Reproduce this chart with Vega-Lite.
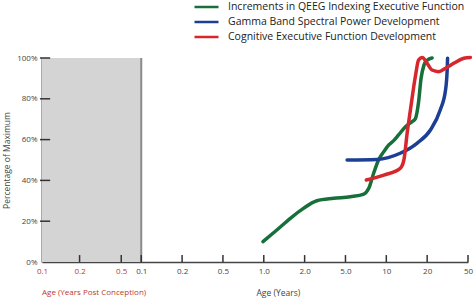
{
  "$schema": "https://vega.github.io/schema/vega-lite/v6.json",
  "width": 426,
  "height": 204,
  "autosize": "none",
  "padding": {"left": 42, "top": 58, "right": 6, "bottom": 37},
  "background": "white",
  "config": {
    "font": "Open Sans",
    "view": {"stroke": null},
    "axisX": {
      "labelOverlap": false,
      "labelFlush": false,
      "labelFontSize": 8,
      "labelPadding": 5,
      "ticks": false,
      "domainColor": "#444444",
      "domainWidth": 1.5,
      "grid": false,
      "zindex": 1
    },
    "axisY": {
      "labelOverlap": false,
      "labelFontSize": 8,
      "labelColor": "#444444",
      "labelPadding": 5,
      "ticks": false,
      "domainColor": "#555555",
      "domainWidth": 2,
      "grid": false,
      "zindex": 1
    }
  },
  "datasets": {
    "curves": [
      {"series": "Increments in QEEG Indexing Executive Function", "pos": 5.41, "pct": 9.95},
      {"series": "Increments in QEEG Indexing Executive Function", "pos": 5.75, "pct": 15.7},
      {"series": "Increments in QEEG Indexing Executive Function", "pos": 6.08, "pct": 21.4},
      {"series": "Increments in QEEG Indexing Executive Function", "pos": 6.4, "pct": 26.3},
      {"series": "Increments in QEEG Indexing Executive Function", "pos": 6.73, "pct": 30.0},
      {"series": "Increments in QEEG Indexing Executive Function", "pos": 7.14, "pct": 31.2},
      {"series": "Increments in QEEG Indexing Executive Function", "pos": 7.55, "pct": 32.0},
      {"series": "Increments in QEEG Indexing Executive Function", "pos": 7.88, "pct": 33.3},
      {"series": "Increments in QEEG Indexing Executive Function", "pos": 8.0, "pct": 36.1},
      {"series": "Increments in QEEG Indexing Executive Function", "pos": 8.12, "pct": 43.5},
      {"series": "Increments in QEEG Indexing Executive Function", "pos": 8.24, "pct": 50.0},
      {"series": "Increments in QEEG Indexing Executive Function", "pos": 8.37, "pct": 54.1},
      {"series": "Increments in QEEG Indexing Executive Function", "pos": 8.49, "pct": 57.4},
      {"series": "Increments in QEEG Indexing Executive Function", "pos": 8.61, "pct": 59.5},
      {"series": "Increments in QEEG Indexing Executive Function", "pos": 8.73, "pct": 62.3},
      {"series": "Increments in QEEG Indexing Executive Function", "pos": 8.9, "pct": 66.3},
      {"series": "Increments in QEEG Indexing Executive Function", "pos": 9.06, "pct": 68.8},
      {"series": "Increments in QEEG Indexing Executive Function", "pos": 9.14, "pct": 70.2},
      {"series": "Increments in QEEG Indexing Executive Function", "pos": 9.22, "pct": 78.4},
      {"series": "Increments in QEEG Indexing Executive Function", "pos": 9.28, "pct": 89.9},
      {"series": "Increments in QEEG Indexing Executive Function", "pos": 9.35, "pct": 96.4},
      {"series": "Increments in QEEG Indexing Executive Function", "pos": 9.43, "pct": 98.9},
      {"series": "Increments in QEEG Indexing Executive Function", "pos": 9.55, "pct": 100.0},
      {"series": "Gamma Band Spectral Power Development", "pos": 7.47, "pct": 50.0},
      {"series": "Gamma Band Spectral Power Development", "pos": 8.2, "pct": 50.3},
      {"series": "Gamma Band Spectral Power Development", "pos": 8.77, "pct": 53.3},
      {"series": "Gamma Band Spectral Power Development", "pos": 9.18, "pct": 58.2},
      {"series": "Gamma Band Spectral Power Development", "pos": 9.51, "pct": 64.7},
      {"series": "Gamma Band Spectral Power Development", "pos": 9.75, "pct": 74.5},
      {"series": "Gamma Band Spectral Power Development", "pos": 9.88, "pct": 84.3},
      {"series": "Gamma Band Spectral Power Development", "pos": 9.92, "pct": 94.1},
      {"series": "Gamma Band Spectral Power Development", "pos": 9.93, "pct": 99.9},
      {"series": "Cognitive Executive Function Development", "pos": 7.94, "pct": 40.2},
      {"series": "Cognitive Executive Function Development", "pos": 8.37, "pct": 42.6},
      {"series": "Cognitive Executive Function Development", "pos": 8.77, "pct": 45.9},
      {"series": "Cognitive Executive Function Development", "pos": 8.86, "pct": 50.0},
      {"series": "Cognitive Executive Function Development", "pos": 8.94, "pct": 63.1},
      {"series": "Cognitive Executive Function Development", "pos": 9.02, "pct": 74.5},
      {"series": "Cognitive Executive Function Development", "pos": 9.14, "pct": 90.8},
      {"series": "Cognitive Executive Function Development", "pos": 9.22, "pct": 99.0},
      {"series": "Cognitive Executive Function Development", "pos": 9.31, "pct": 100.3},
      {"series": "Cognitive Executive Function Development", "pos": 9.43, "pct": 97.4},
      {"series": "Cognitive Executive Function Development", "pos": 9.55, "pct": 94.1},
      {"series": "Cognitive Executive Function Development", "pos": 9.71, "pct": 93.3},
      {"series": "Cognitive Executive Function Development", "pos": 9.88, "pct": 95.0},
      {"series": "Cognitive Executive Function Development", "pos": 10.08, "pct": 97.4},
      {"series": "Cognitive Executive Function Development", "pos": 10.33, "pct": 99.9},
      {"series": "Cognitive Executive Function Development", "pos": 10.49, "pct": 100.3}
    ]
  },
  "encoding": {
    "x": {"type": "quantitative", "scale": {"domain": [0, 10.43], "nice": false, "zero": false},
      "axis": {
        "values": [0, 0.92, 1.94, 2.43, 3.43, 4.43, 5.43, 6.43, 7.43, 8.43, 9.43, 10.43],
        "labelExpr": "datum.value < 0.5 ? '0.1' : datum.value < 1.5 ? '0.2' : datum.value < 2.2 ? '0.5' : datum.value < 3 ? '0.1' : datum.value < 4 ? '0.2' : datum.value < 5 ? '0.5' : datum.value < 6 ? '1.0' : datum.value < 7 ? '2.0' : datum.value < 8 ? '5.0' : datum.value < 9 ? '10' : datum.value < 10 ? '20' : '50'",
        "labelColor": {"condition": {"test": "datum.value < 2.2", "value": "#b83a30"}, "value": "#444444"},
        "title": "Age (Years)",
        "titleFontSize": 8.5,
        "titleFontWeight": "normal",
        "titleColor": "#444444",
        "titleX": 214,
        "titleY": 30.7,
        "titleAlign": "left",
        "titleBaseline": "middle"
      }
    },
    "y": {"type": "quantitative", "scale": {"domain": [0, 100], "nice": false},
      "axis": {
        "values": [0, 20, 40, 60, 80, 100],
        "labelExpr": "datum.value + '%'",
        "title": "Percentage of Maximum",
        "titleFontSize": 8.5,
        "titleFontWeight": "normal",
        "titleColor": "#444444",
        "titleX": -36,
        "titleY": 102,
        "titleBaseline": "middle"
      }
    }
  },
  "layer": [
    {
      "data": {"values": [{"start": 0, "end": 2.43, "low": 0, "high": 100}]},
      "mark": {"type": "rect", "fill": "#d4d4d4"},
      "encoding": {
        "x": {"field": "start", "type": "quantitative"},
        "x2": {"field": "end"},
        "y": {"field": "low", "type": "quantitative"},
        "y2": {"field": "high"}
      }
    },
    {
      "data": {"values": [{"start": 2.43, "low": 0, "high": 100}]},
      "mark": {"type": "rule", "color": "#8a8a8a", "strokeWidth": 2},
      "encoding": {
        "x": {"field": "start", "type": "quantitative"},
        "y": {"field": "low", "type": "quantitative"},
        "y2": {"field": "high"}
      }
    },
    {
      "data": {"values": [
        {"tick": 0.92, "low": 0, "high": 3.4}, {"tick": 1.94, "low": 0, "high": 3.4},
        {"tick": 2.43, "low": 0, "high": 3.4}, {"tick": 3.43, "low": 0, "high": 3.4},
        {"tick": 4.43, "low": 0, "high": 3.4}, {"tick": 5.43, "low": 0, "high": 3.4},
        {"tick": 6.43, "low": 0, "high": 3.4}, {"tick": 7.43, "low": 0, "high": 3.4},
        {"tick": 8.43, "low": 0, "high": 3.4}, {"tick": 9.43, "low": 0, "high": 3.4},
        {"tick": 10.43, "low": 0, "high": 3.4}
      ]},
      "mark": {"type": "rule", "color": "#333333", "strokeWidth": 1.5, "clip": false},
      "encoding": {
        "x": {"field": "tick", "type": "quantitative"},
        "y": {"field": "low", "type": "quantitative"},
        "y2": {"field": "high"}
      }
    },
    {
      "data": {"values": [
        {"tick": 20, "from": -0.05, "to": 0.2}, {"tick": 40, "from": -0.05, "to": 0.2},
        {"tick": 60, "from": -0.05, "to": 0.2}, {"tick": 80, "from": -0.05, "to": 0.2},
        {"tick": 100, "from": -0.05, "to": 0.2}
      ]},
      "mark": {"type": "rule", "color": "#333333", "strokeWidth": 1.5, "clip": false},
      "encoding": {
        "y": {"field": "tick", "type": "quantitative"},
        "x": {"field": "from", "type": "quantitative"},
        "x2": {"field": "to"}
      }
    },
    {
      "data": {"name": "curves"},
      "mark": {"type": "line", "interpolate": "monotone", "strokeWidth": 3.5, "clip": false, "strokeCap": "round"},
      "encoding": {
        "x": {"field": "pos", "type": "quantitative"},
        "y": {"field": "pct", "type": "quantitative"},
        "color": {
          "field": "series", "type": "nominal",
          "scale": {
            "domain": ["Increments in QEEG Indexing Executive Function", "Gamma Band Spectral Power Development", "Cognitive Executive Function Development"],
            "range": ["#17703a", "#1c3f94", "#d7262c"]
          },
          "legend": {
            "orient": "none",
            "legendX": 151,
            "legendY": -58.5,
            "title": null,
            "symbolType": "stroke",
            "symbolSize": 576,
            "symbolStrokeWidth": 2.5,
            "labelFontSize": 10.5,
            "labelColor": "#222222",
            "labelOffset": 8,
            "rowPadding": 0,
            "clipHeight": 15,
            "labelLimit": 300
          }
        }
      }
    },
    {
      "data": {"values": [{"label": "Age (Years Post Conception)", "pos": 0, "pct": 0}]},
      "mark": {"type": "text", "align": "left", "baseline": "middle", "dy": 30.7, "fontSize": 8, "color": "#b83a30", "clip": false},
      "encoding": {
        "x": {"field": "pos", "type": "quantitative"},
        "y": {"field": "pct", "type": "quantitative"},
        "text": {"field": "label"}
      }
    }
  ]
}
